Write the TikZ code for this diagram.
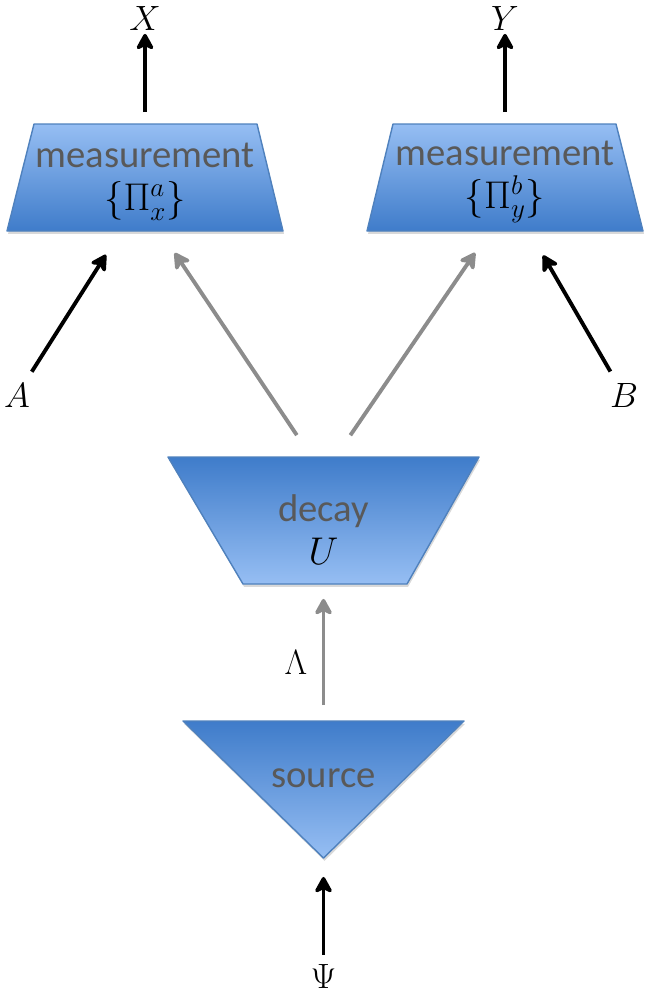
\RequirePackage{fix-cm}
\documentclass[tikz,border=0pt]{standalone}
\usepackage{fontspec}
\usepackage{tikz}
\usetikzlibrary{calc, arrows.meta, shadows}
\newfontfamily\boxfont{Carlito}
\definecolor{boxBorder}{HTML}{4F81BD}
\definecolor{boxDark}{HTML}{3F7CCA}
\definecolor{boxLight}{HTML}{96BEF3}
\definecolor{boxText}{HTML}{595959}
\definecolor{greyArrow}{HTML}{8C8C8C}

\tikzset{
    boxshape/.style={draw=boxBorder, line width=0.8pt, line join=round,
        drop shadow={opacity=0.3, shadow xshift=0.6pt, shadow yshift=-1.6pt}},
    measshape/.style={boxshape, top color=boxLight, bottom color=boxDark},
    downshape/.style={boxshape, top color=boxDark, bottom color=boxLight},
    boxtext/.style={font=\boxfont\fontsize{22}{24.5}\selectfont, text=boxText, align=center},
    mathlabel/.style={font=\fontsize{20}{24}\selectfont, inner sep=2pt},
    darkarrow/.style={line width=2.2pt, -{Stealth[length=11pt, width=12pt, inset=3pt, round]}},
    greyarrow/.style={darkarrow, draw=greyArrow},
}

\begin{document}
\begin{tikzpicture}[x=0.02cm, y=-0.02cm]
    \useasboundingbox (0, 0) rectangle (650, 995);

    % the four boxes
    \draw[measshape] (34, 124) -- (257, 124) -- (283, 231) -- (7, 231) -- cycle;
    \draw[measshape] (393, 124) -- (616, 124) -- (643, 231) -- (367, 231) -- cycle;
    \draw[downshape] (168, 457) -- (479, 457) -- (407, 584) -- (243, 584) -- cycle;
    \draw[downshape] (183, 721) -- (464, 721) -- (323.5, 858) -- cycle;

    \coordinate (measX-top) at (145, 124);
    \coordinate (measX-base) at (145, 231);
    \coordinate (measY-top) at (505, 124);
    \coordinate (measY-base) at (505, 231);
    \coordinate (decay-top) at (323.5, 457);
    \coordinate (decay-base) at (323.5, 584);
    \coordinate (source-top) at (323.5, 721);
    \coordinate (source-tip) at (323.5, 858);

    \node[boxtext] (measX) at (145, 182) {measurement\\{\color{black}$\{\Pi^a_x\}$}};
    \node[boxtext] (measY) at (505, 182) {measurement\\{\color{black}$\{\Pi^b_y\}$}};
    \node[boxtext] (decay) at (323.5, 530) {decay\\{\color{black}$U$}};
    \node[boxtext] (source) at (323.5, 778) {source};

    % inputs and outputs
    \node[mathlabel] (X) at (145, 18) {$X$};
    \node[mathlabel] (Y) at (505, 18) {$Y$};
    \node[mathlabel] (A) at (17, 395) {$A$};
    \node[mathlabel] (B) at (624, 395) {$B$};
    \node[mathlabel] (Lambda) at (296, 662) {$\Lambda$};
    \node[mathlabel] (Psi) at (323.5, 976) {$\Psi$};

    \draw[darkarrow, shorten <=6.8pt] (measX-top) -- (X);
    \draw[darkarrow, shorten <=6.8pt] (measY-top) -- (Y);
    \draw[darkarrow, shorten <=5pt, shorten >=16pt] (A) -- ($(measX-base)+(-24, 0)$);
    \draw[darkarrow, shorten <=5pt, shorten >=16pt] (B) -- ($(measY-base)+(24, 0)$);
    \draw[greyarrow, shorten <=15pt, shorten >=15pt] ($(decay-top)+(-12, 0)$) -- ($(measX-base)+(15, 0)$);
    \draw[greyarrow, shorten <=15pt, shorten >=15pt] ($(decay-top)+(12, 0)$) -- ($(measY-base)+(-15, 0)$);
    \draw[greyarrow, shorten <=9pt, shorten >=8.5pt] (source-top) -- (decay-base);
    \draw[darkarrow, shorten <=3pt, shorten >=10.8pt] (Psi) -- (source-tip);
\end{tikzpicture}
\end{document}
